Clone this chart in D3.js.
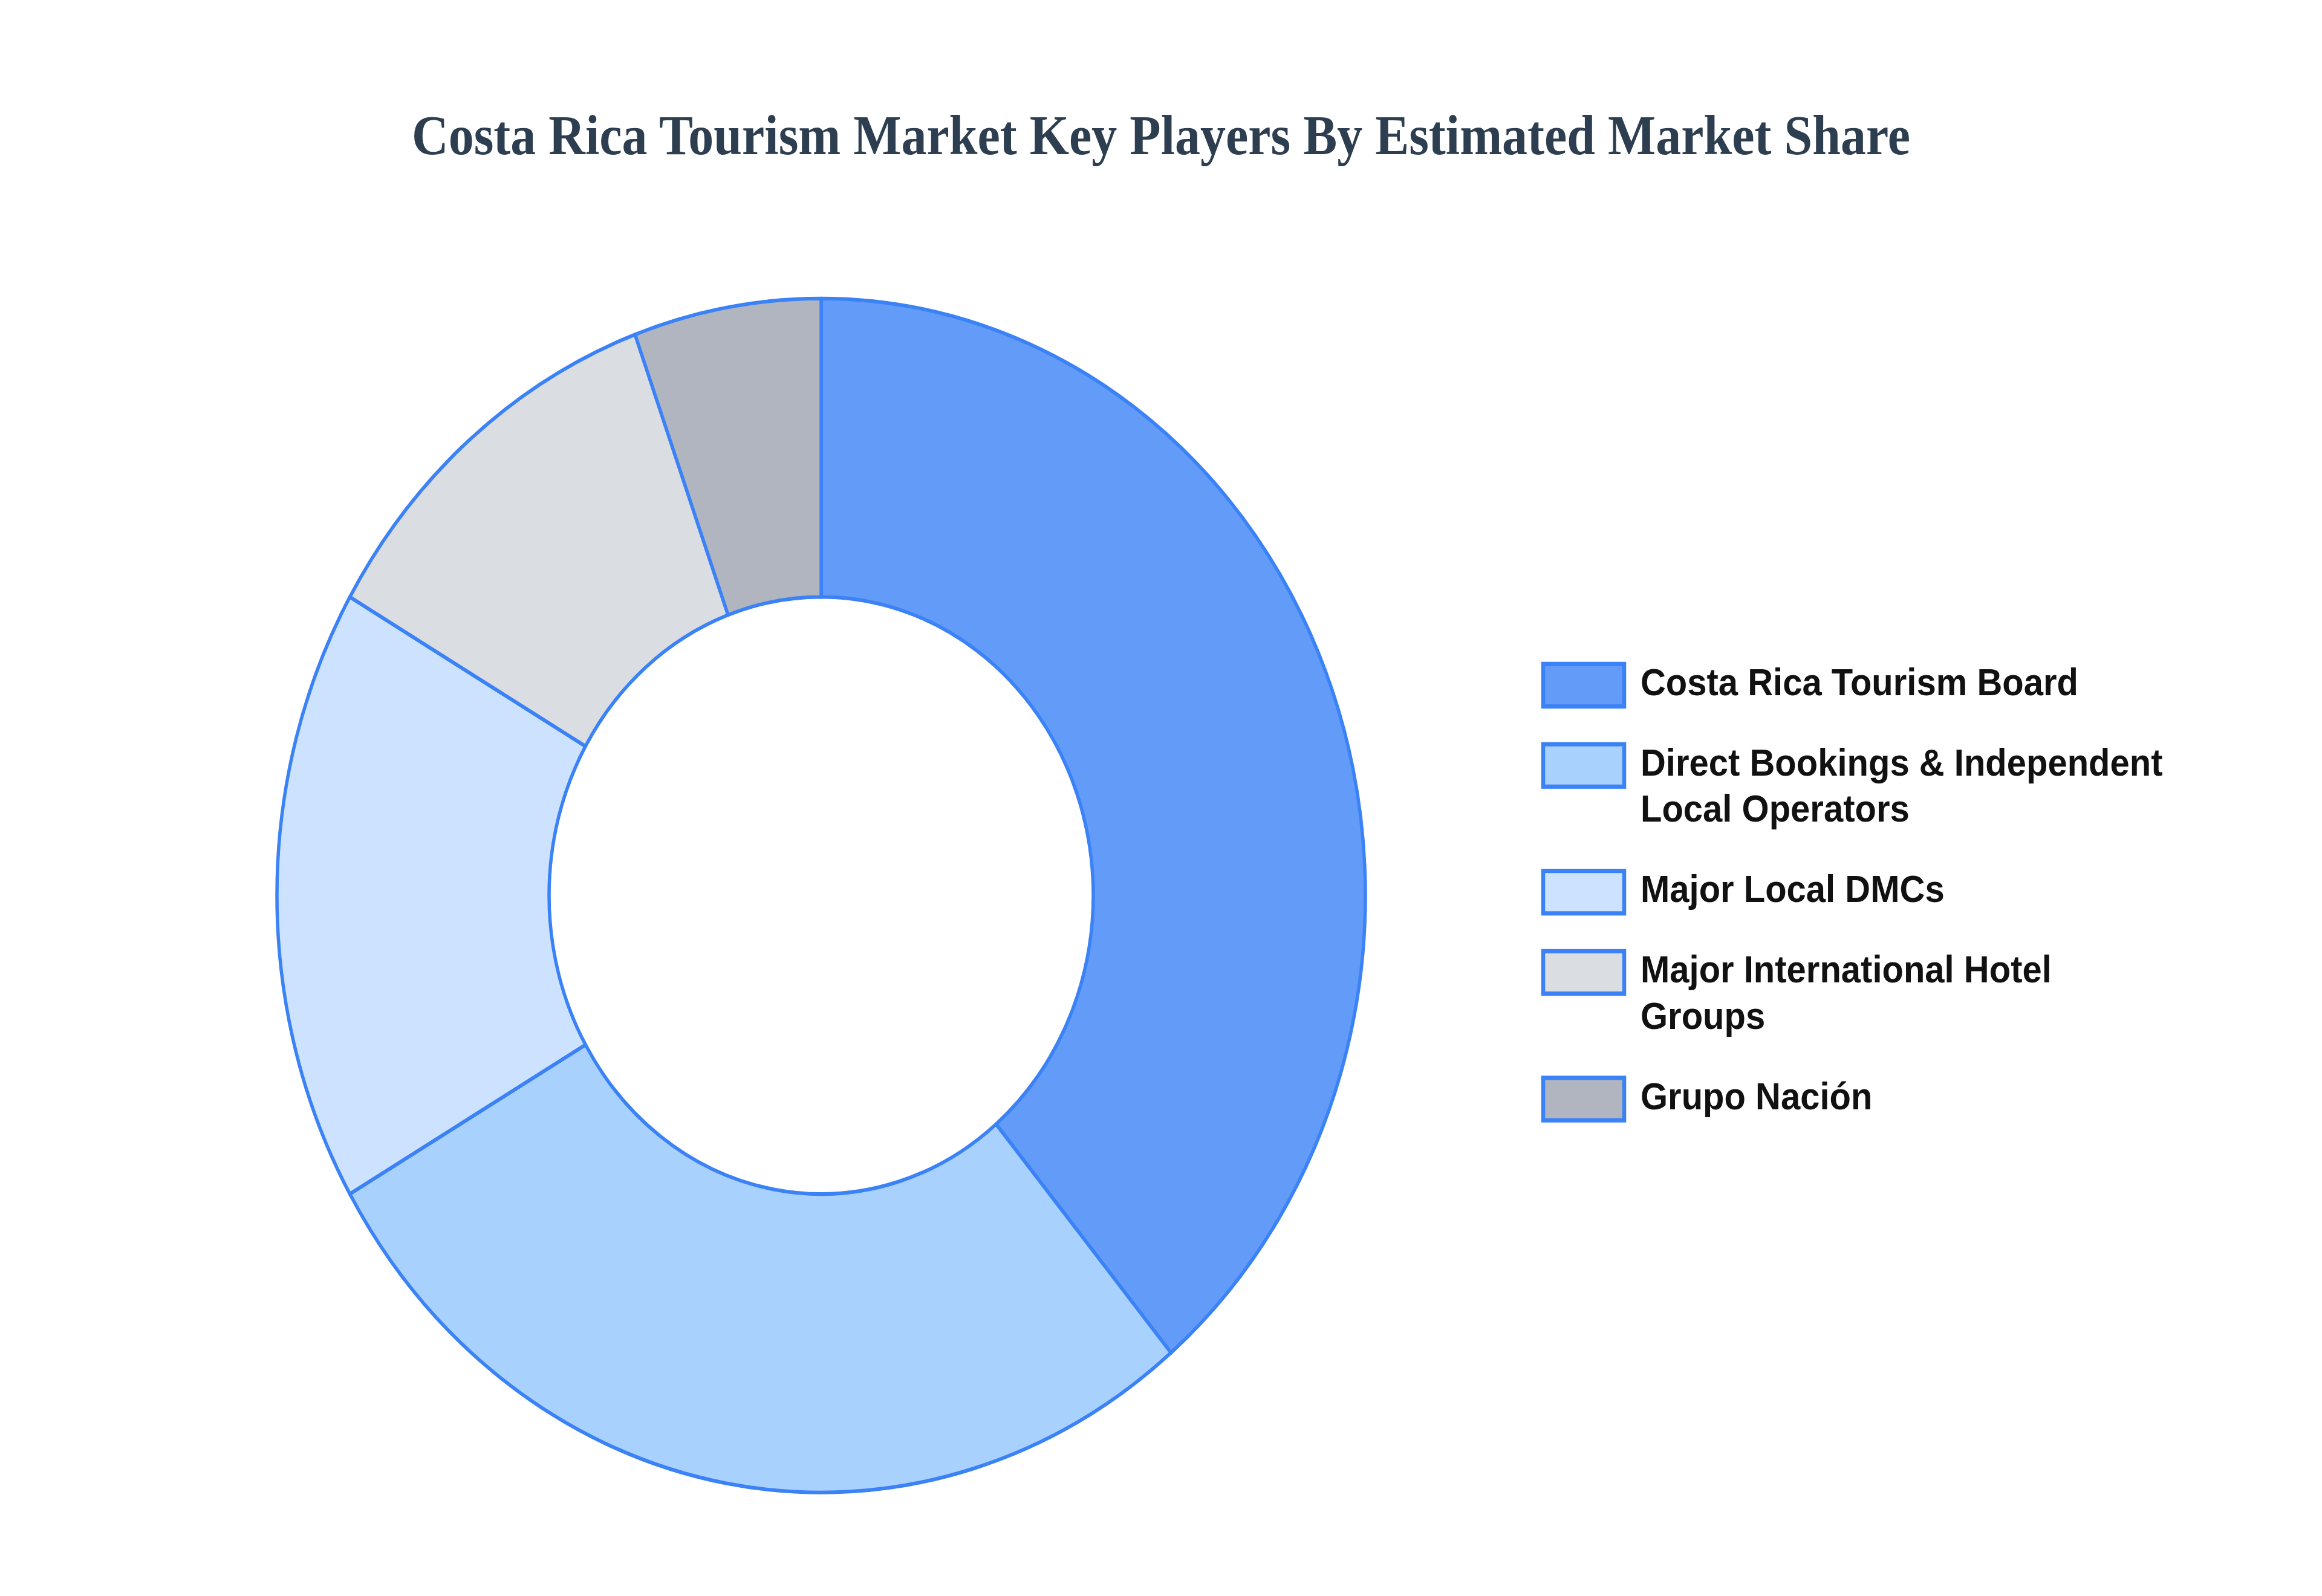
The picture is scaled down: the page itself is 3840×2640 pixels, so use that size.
<!DOCTYPE html>
<html>
<head>
<meta charset="utf-8">
<script src="https://cdn.jsdelivr.net/npm/d3@7"></script>
<style>
  html, body { margin: 0; padding: 0; background: #fff; }
  svg { display: block; }
</style>
</head>
<body>
<svg id="chart"></svg>
<script>
// Market share data (estimated)
const categories = [
    "Costa Rica Tourism Board",
    "Direct Bookings & Independent Local Operators",
    "Major Local DMCs",
    "Major International Hotel Groups",
    "Grupo Nación"
];
const shares = [35, 25, 15, 10, 5];
const fills = ["#629bf8", "#a9d1fd", "#cce2fe", "#dadde2", "#b0b5bf"];
const title = "Costa Rica Tourism Market Key Players By Estimated Market Share";

// The picture is stretched vertically, so draw in a shorter box and let the svg stretch it
const W = 3840, H = 2640, stretch = 1.0972;
const h = H / stretch;

const svg = d3.select("#chart")
    .attr("width", W)
    .attr("height", H)
    .attr("viewBox", `0 0 ${W} ${h}`)
    .attr("preserveAspectRatio", "none");

// Title
svg.append("text")
    .attr("x", W / 2)
    .attr("y", 232)
    .attr("text-anchor", "middle")
    .style("font-family", "'Liberation Serif', 'Times New Roman', serif")
    .style("font-weight", "bold")
    .style("font-size", "84px")
    .style("fill", "#2c3e50")
    .text(title);

// Donut
const cx = 1358, cy = 1350, outer = 900, inner = 450;

const pie = d3.pie().sort(null).value(d => d);
const arc = d3.arc().innerRadius(inner).outerRadius(outer);

const g = svg.append("g")
    .attr("transform", `translate(${cx},${cy})`);

g.selectAll("path")
    .data(pie(shares))
    .enter()
    .append("path")
    .attr("d", arc)
    .attr("fill", (d, i) => fills[i])
    .attr("stroke", "#3b82f6")
    .attr("stroke-width", 5.5)
    .attr("stroke-linejoin", "round");

// Legend
const legendX = 2549, legendTop = 1033, rowStep = 121, lineStep = 70, maxTextWidth = 895;
const swatchW = 134, swatchH = 64;

const legend = svg.append("g");
let y = legendTop;

categories.forEach((name, i) => {
    const item = legend.append("g");

    item.append("rect")
        .attr("x", legendX + 3)
        .attr("y", y - swatchH / 2)
        .attr("width", swatchW)
        .attr("height", swatchH)
        .attr("fill", fills[i])
        .attr("stroke", "#3b82f6")
        .attr("stroke-width", 6.5);

    const text = item.append("text")
        .attr("x", legendX + 164)
        .attr("y", y + 15)
        .style("font-family", "'Liberation Sans', Arial, sans-serif")
        .style("font-weight", "bold")
        .style("font-size", "58px")
        .style("fill", "#111");

    // simple word wrap
    const words = name.split(" ");
    let line = [];
    let lines = 0;
    let tspan = text.append("tspan").attr("x", legendX + 164).attr("dy", 0);
    words.forEach(w => {
        line.push(w);
        tspan.text(line.join(" "));
        if (tspan.node().getComputedTextLength() > maxTextWidth && line.length > 1) {
            line.pop();
            tspan.text(line.join(" "));
            line = [w];
            lines++;
            tspan = text.append("tspan")
                .attr("x", legendX + 164)
                .attr("dy", lineStep)
                .text(w);
        }
    });

    y += rowStep + lines * lineStep;
});
</script>
</body>
</html>
